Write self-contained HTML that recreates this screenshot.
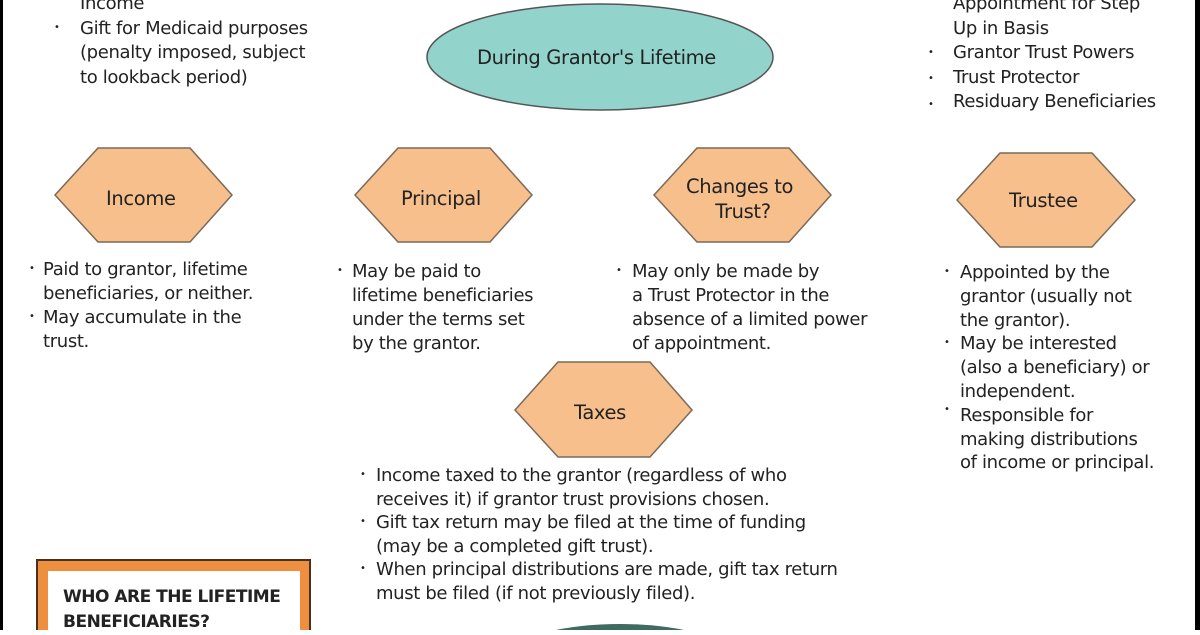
<!DOCTYPE html>
<html><head><style>
body{margin:0;width:1200px;height:630px;overflow:hidden;background:#fff;position:relative;font-family:"DejaVu Sans","Liberation Sans",sans-serif;color:#222}
.t{position:absolute;font-size:18px;line-height:24.5px;white-space:nowrap;letter-spacing:-0.35px}
.h{font-size:19.5px}
.b{position:absolute;font-size:10px}
svg{position:absolute;left:0;top:0}
</style></head><body>
<svg width="1200" height="630">
<rect x="0" y="0" width="3" height="630" fill="#000"/>
<rect x="1195" y="0" width="5" height="630" fill="#000"/>
<ellipse cx="600" cy="57" rx="173" ry="53" fill="#92d4cc" stroke="#555" stroke-width="1.5"/>
<ellipse cx="620" cy="650" rx="100" ry="26" fill="#3f6b60"/>
<g fill="#f7bf8c" stroke="#7a6a5a" stroke-width="1.5">
<polygon points="55,195 98,148 190,148 232,195 190,242 98,242"/>
<polygon points="355,195 398,148 490,148 532,195 490,242 398,242"/>
<polygon points="654,195 697,148 789,148 831,195 789,242 697,242"/>
<polygon points="957,200 1000,153 1092,153 1135,200 1092,247 1000,247"/>
<polygon points="515,410 558,362 650,362 692,410 650,457 558,457"/>
</g>
<rect x="37" y="560" width="273" height="80" fill="#ed8f3e" stroke="#4a3020" stroke-width="2"/>
<rect x="48" y="571" width="252" height="70" fill="#fff"/>
</svg>
<div class="t h" style="left:477px;top:46px">During Grantor's Lifetime</div>
<div class="t h" style="left:106px;top:187px">Income</div>
<div class="t h" style="left:401px;top:187px">Principal</div>
<div class="t h" style="left:686px;top:174px;line-height:25px">Changes to<br>&nbsp;&nbsp;&nbsp;&nbsp;&nbsp;Trust?</div>
<div class="t h" style="left:1009px;top:189px">Trustee</div>
<div class="t h" style="left:574px;top:401px">Taxes</div>

<div class="t" style="left:80px;top:-8px">Income<br>Gift for Medicaid purposes<br>(penalty imposed, subject<br>to lookback period)</div>
<div class="b" style="left:54px;top:22px">•</div>

<div class="t" style="left:953px;top:-8px">Appointment for Step<br>Up in Basis<br>Grantor Trust Powers<br>Trust Protector<br>Residuary Beneficiaries</div>
<div class="b" style="left:928px;top:47px">•</div><div class="b" style="left:928px;top:73px">•</div><div class="b" style="left:928px;top:99px">•</div>

<div class="t" style="left:43px;top:258px;line-height:24px">Paid to grantor, lifetime<br>beneficiaries, or neither.<br>May accumulate in the<br>trust.</div>
<div class="b" style="left:29px;top:263px">•</div><div class="b" style="left:29px;top:311px">•</div>

<div class="t" style="left:352px;top:260px;line-height:24px">May be paid to<br>lifetime beneficiaries<br>under the terms set<br>by the grantor.</div>
<div class="b" style="left:337px;top:265px">•</div>

<div class="t" style="left:632px;top:260px;line-height:24px">May only be made by<br>a Trust Protector in the<br>absence of a limited power<br>of appointment.</div>
<div class="b" style="left:616px;top:265px">•</div>

<div class="t" style="left:960px;top:261px;line-height:23.8px">Appointed by the<br>grantor (usually not<br>the grantor).<br>May be interested<br>(also a beneficiary) or<br>independent.<br>Responsible for<br>making distributions<br>of income or principal.</div>
<div class="b" style="left:944px;top:266px">•</div><div class="b" style="left:944px;top:337px">•</div><div class="b" style="left:944px;top:404px">•</div>

<div class="t" style="left:376px;top:464px;line-height:23.6px">Income taxed to the grantor (regardless of who<br>receives it) if grantor trust provisions chosen.<br>Gift tax return may be filed at the time of funding<br>(may be a completed gift trust).<br>When principal distributions are made, gift tax return<br>must be filed (if not previously filed).</div>
<div class="b" style="left:360px;top:469px">•</div><div class="b" style="left:360px;top:516px">•</div><div class="b" style="left:360px;top:563px">•</div>

<div class="t" style="left:63px;top:585px;font-weight:bold;font-size:17px;line-height:25px;letter-spacing:-0.5px">WHO ARE THE LIFETIME<br>BENEFICIARIES?</div>
</body></html>
